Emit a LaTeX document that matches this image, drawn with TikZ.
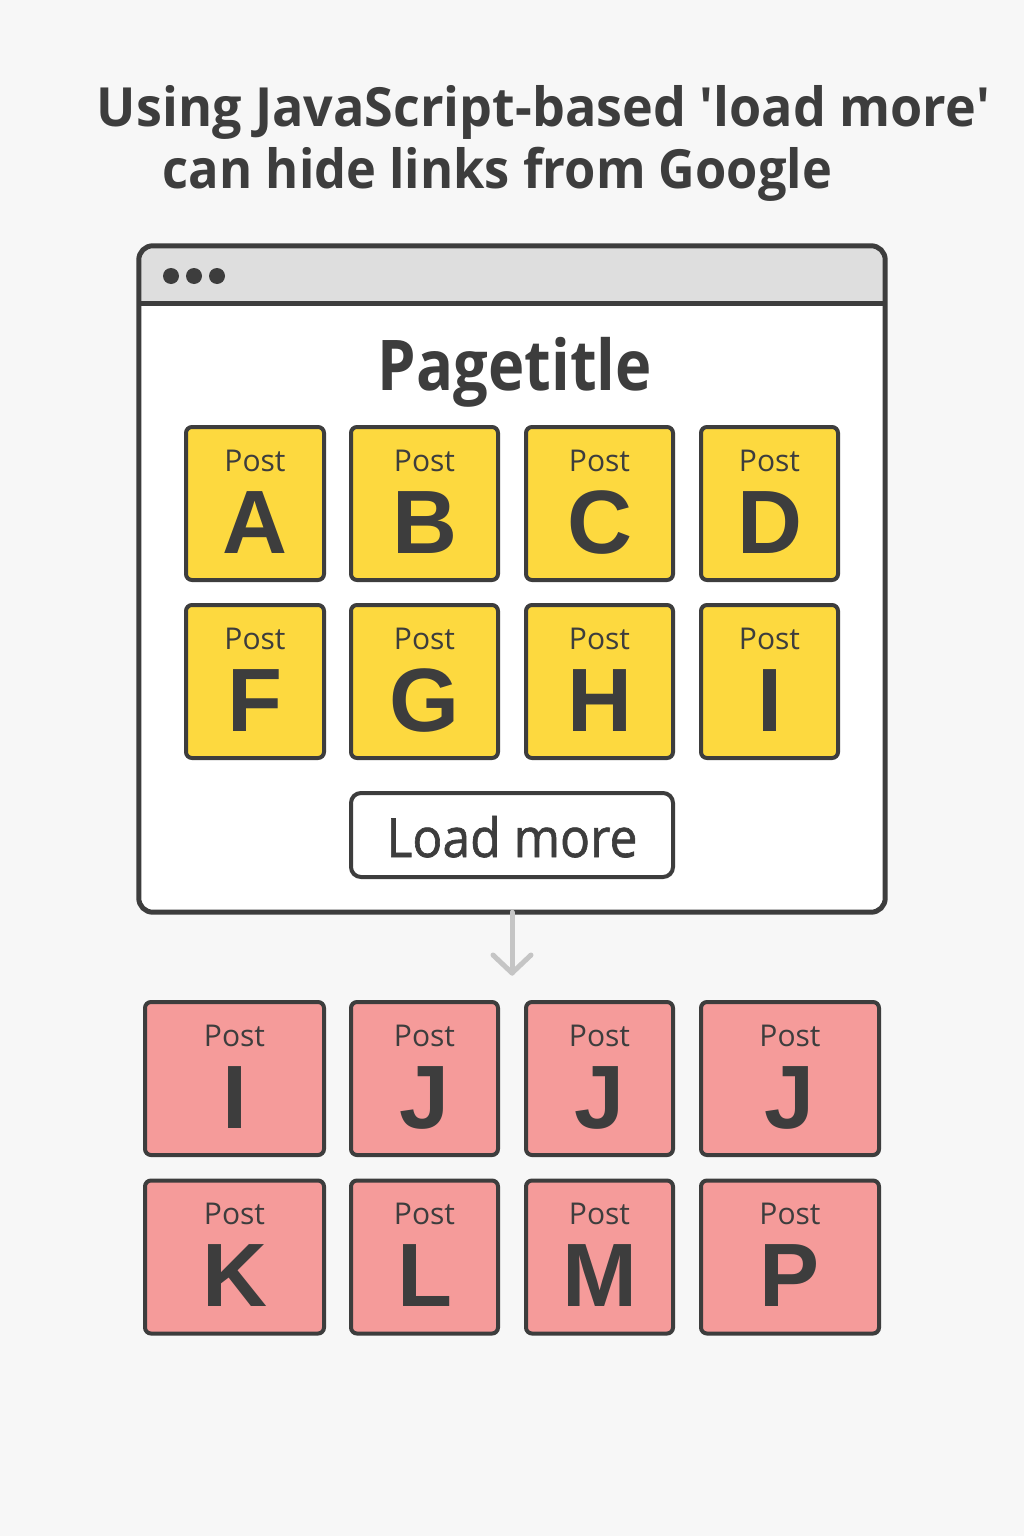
\documentclass[tikz,border=0pt]{standalone}
\usepackage{fontspec}
\setmainfont{Open Sans}
\newfontfamily\letterfont{Liberation Sans}
\newfontfamily\medfont[FakeBold=1.2]{Open Sans}
\usetikzlibrary{calc}
\definecolor{bg}{HTML}{F7F7F7}
\definecolor{ink}{HTML}{3D3D3D}
\definecolor{barfill}{HTML}{DEDEDE}
\definecolor{cardyellow}{HTML}{FDD93F}
\definecolor{cardpink}{HTML}{F59B9A}
\definecolor{arrowgray}{HTML}{C5C5C5}
\tikzset{
  card/.style={draw=ink, line width=4pt, rounded corners=6pt, inner sep=0pt, minimum height=153pt},
  ycard/.style={card, fill=cardyellow},
  pcard/.style={card, fill=cardpink},
  posttxt/.style={anchor=base, font=\fontsize{30}{30}\selectfont, text=ink, inner sep=0pt},
  bigtxt/.style={anchor=base, font=\fontsize{90}{90}\selectfont\letterfont\bfseries, text=ink, inner sep=0pt},
  titletxt/.style={anchor=base, font=\fontsize{54}{54}\selectfont\bfseries, text=ink, inner sep=0pt},
  arrowline/.style={draw=arrowgray, line width=5pt, line cap=round, line join=round},
}
\newcommand\postcard[6]{%
  \node[#2, minimum width=#5pt] (#1) at (#3,#4) {};
  \node[posttxt] (#1-p) at ($(#1.north)+(0,46)$) {Post};
  \node[bigtxt] (#1-l) at ($(#1.north)+(0,128)$) {#6};
}
\begin{document}
\begin{tikzpicture}[x=1pt,y=-1pt]
\useasboundingbox (0,0) rectangle (1024,1536);
\fill[bg] (0,0) rectangle (1024,1536);

% title
\node[titletxt] (t1) at (543.5,127) {\resizebox{893pt}{\height}{Using JavaScript-based \textquotesingle load more\textquotesingle}};
\node[titletxt] (t2) at (497.5,188) {\resizebox{669pt}{\height}{can hide links from Google}};

% browser window
\node[fill=white, rounded corners=14pt, minimum width=746pt, minimum height=666pt, inner sep=0pt] (win) at (512,579) {};
\begin{scope}
  \clip[rounded corners=14pt] (win.north west) rectangle (win.south east);
  \fill[barfill] (win.north west) rectangle ($(win.north east)+(0,58)$);
\end{scope}
\draw[ink, line width=5pt] ($(win.north west)+(0,58)$) coordinate (barl) -- ($(win.north east)+(0,58)$) coordinate (barr);
\draw[ink, line width=5pt, rounded corners=14pt] (win.north west) rectangle (win.south east);
\fill[ink] (171,276) circle (8pt) (194,276) circle (8pt) (217,276) circle (8pt);

\node[anchor=base, inner sep=0pt, text=ink, font=\fontsize{70}{70}\selectfont\bfseries] (ptitle) at (515,390) {\resizebox{274pt}{\height}{Pagetitle}};

% yellow posts
\postcard{A}{ycard}{255}{503.5}{138}{A}
\postcard{B}{ycard}{424.5}{503.5}{147}{B}
\postcard{C}{ycard}{599.5}{503.5}{147}{C}
\postcard{D}{ycard}{769.5}{503.5}{137}{D}
\postcard{F}{ycard}{255}{681.5}{138}{F}
\postcard{G}{ycard}{424.5}{681.5}{147}{G}
\postcard{H}{ycard}{599.5}{681.5}{147}{H}
\postcard{I}{ycard}{769.5}{681.5}{137}{I}

% load more button
\node[draw=ink, fill=white, line width=4pt, rounded corners=10pt, minimum width=322pt, minimum height=84pt, inner sep=0pt] (btn) at (512,835) {};
\node[anchor=base, inner sep=0pt, text=ink, font=\fontsize{54}{54}\selectfont\medfont] (btntxt) at ($(btn.south)+(0,-22)$) {\resizebox{251pt}{\height}{Load more}};

% arrow
\coordinate (tip) at (512,973);
\draw[arrowline] (win.south) -- (tip);
\draw[arrowline] ($(tip)+(-19,-18)$) -- (tip) -- ($(tip)+(19,-18)$);

% pink posts
\postcard{I2}{pcard}{234.5}{1078.5}{179}{I}
\postcard{J1}{pcard}{424.5}{1078.5}{147}{J}
\postcard{J2}{pcard}{599.5}{1078.5}{147}{J}
\postcard{J3}{pcard}{790}{1078.5}{178}{J}
\postcard{K}{pcard}{234.5}{1257}{179}{K}
\postcard{L}{pcard}{424.5}{1257}{147}{L}
\postcard{M}{pcard}{599.5}{1257}{147}{M}
\postcard{P}{pcard}{790}{1257}{178}{P}
\end{tikzpicture}
\end{document}
